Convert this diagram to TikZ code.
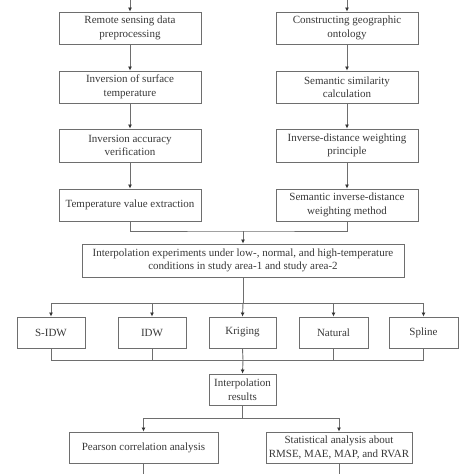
\documentclass[tikz,border=0pt]{standalone}
\usepackage{fontspec}
\setmainfont{Liberation Serif}
\usetikzlibrary{arrows.meta}
\definecolor{linec}{HTML}{6E6E6E}
\definecolor{textc}{HTML}{383838}
\begin{document}
\begin{tikzpicture}[x=1pt,y=-1pt,
  box/.style={draw=linec,line width=0.9pt,text=textc,align=center,inner sep=1pt,
    font=\fontsize{11}{13.5}\selectfont,minimum height=32pt},
  ln/.style={draw=linec,line width=0.9pt},
  arr/.style={ln,-{Latex[length=4pt,width=4pt,color=black!80]}}]
\useasboundingbox (0,0) rectangle (474,474);
% left column
\node[box,minimum width=142pt] (l1) at (130,28) {Remote sensing data\\preprocessing};
\node[box,minimum width=142pt] (l2) at (130,87) {Inversion of surface\\temperature};
\node[box,minimum width=142pt,minimum height=33pt] (l3) at (130,145.5) {Inversion accuracy\\verification};
\node[box,minimum width=142pt] (l4) at (130,205) {Temperature value extraction};
% right column
\node[box,minimum width=142pt] (r1) at (347,28) {Constructing geographic\\ontology};
\node[box,minimum width=142pt] (r2) at (347,87) {Semantic similarity\\calculation};
\node[box,minimum width=142pt,minimum height=33pt] (r3) at (347,145.5) {Inverse-distance weighting\\principle};
\node[box,minimum width=142pt] (r4) at (347,205) {Semantic inverse-distance\\weighting method};
% interpolation experiments
\node[box,minimum width=322pt,minimum height=33pt] (ie) at (243,260.5) {Interpolation experiments under low-, normal, and high-temperature\\conditions in study area-1 and study area-2};
% methods
\node[box,minimum width=68pt,minimum height=31pt] (m1) at (51,332.5) {S-IDW};
\node[box,minimum width=68pt,minimum height=31pt] (m2) at (152,332.5) {IDW};
\node[box,minimum width=67pt,minimum height=31pt] (m3) at (242.5,332.5) {Kriging};
\node[box,minimum width=69pt,minimum height=31pt] (m4) at (333.5,332.5) {Natural};
\node[box,minimum width=69pt,minimum height=31pt] (m5) at (423.5,332.5) {Spline};
% results
\node[box,minimum width=67pt,minimum height=31pt] (res) at (242.5,389.5) {Interpolation\\results};
\node[box,minimum width=149pt,minimum height=31pt] (pc) at (143.5,447.5) {Pearson correlation analysis};
\node[box,minimum width=146pt,minimum height=31pt] (sa) at (339,447.5) {Statistical analysis about\\RMSE, MAE, MAP, and RVAR};
% coordinates
\coordinate (t1) at (130,0);
\coordinate (t2) at (347,0);
\coordinate (j1) at (243,231);
\coordinate (j2) at (243,303);
\coordinate (j3) at (243,360);
\coordinate (j4) at (242.5,418);
\coordinate (b1) at (143.5,474);
\coordinate (b2) at (339,474);
% connectors
\draw[arr] (t1) -- (l1);
\draw[arr] (t2) -- (r1);
\draw[arr] (l1) -- (l2);
\draw[arr] (l2) -- (l3);
\draw[arr] (l3) -- (l4);
\draw[arr] (r1) -- (r2);
\draw[arr] (r2) -- (r3);
\draw[arr] (r3) -- (r4);
\draw[ln] (l4.south) |- (j1) -| (r4.south);
\draw[arr] (j1) -- (ie.north);
\draw[ln] (ie.south) -- (j2);
\draw[arr] (j2) -| (m1.north);
\draw[arr] (j2) -| (m2.north);
\draw[arr] (j2) -- (m3.north);
\draw[arr] (j2) -| (m4.north);
\draw[arr] (j2) -| (m5.north);
\draw[ln] (m1.south) |- (j3);
\draw[ln] (m2.south) |- (j3);
\draw[ln] (m3.south) -- (j3);
\draw[ln] (m4.south) |- (j3);
\draw[ln] (m5.south) |- (j3);
\draw[arr] (j3) -- (res.north);
\draw[ln] (res.south) -- (j4);
\draw[arr] (j4) -| (pc.north);
\draw[arr] (j4) -| (sa.north);
\draw[ln] (pc.south) -- (b1);
\draw[ln] (sa.south) -- (b2);
\end{tikzpicture}
\end{document}
